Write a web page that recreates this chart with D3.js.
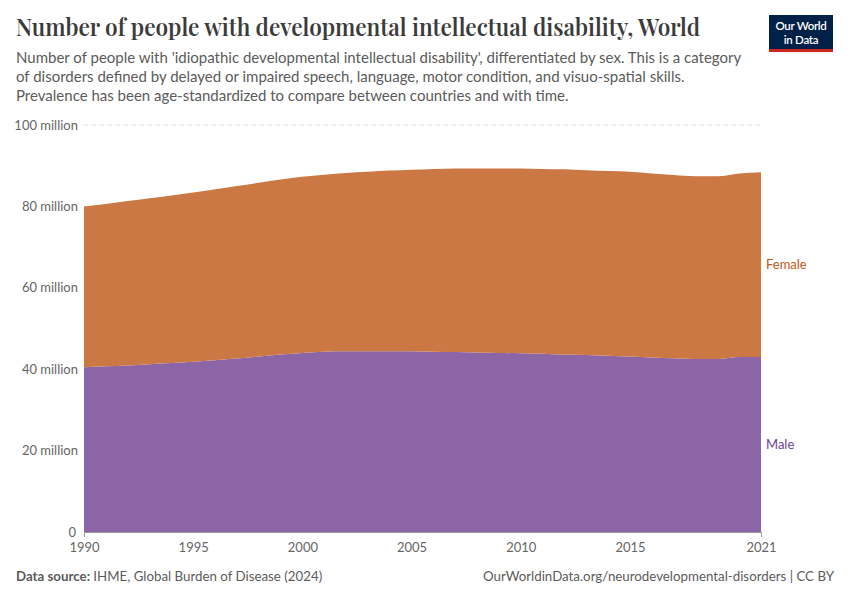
<!DOCTYPE html>
<html>
<head>
<meta charset="utf-8">
<script src="https://cdn.jsdelivr.net/npm/d3@7"></script>
<style>
  body { margin: 0; background: #fff; }
  svg { font-family: Lato, "Open Sans", sans-serif; }
</style>
</head>
<body>
<svg width="850" height="600"></svg>
<script>
// годы и значения (млн человек)
const years = d3.range(1990, 2022);
const male = [40.5, 40.7, 40.9, 41.2, 41.5, 41.8, 42.2, 42.6, 43.1, 43.6, 44.0,
              44.3, 44.4, 44.4, 44.4, 44.4, 44.3, 44.2, 44.1, 44.0, 43.9,
              43.8, 43.6, 43.5, 43.3, 43.1, 42.9, 42.7, 42.5, 42.5, 43.0, 43.0];
const total = [80.0, 80.6, 81.3, 82.0, 82.7, 83.4, 84.2, 85.0, 85.8, 86.6, 87.3,
               87.8, 88.2, 88.5, 88.8, 89.0, 89.2, 89.3, 89.3, 89.3, 89.3,
               89.2, 89.1, 88.9, 88.7, 88.5, 88.1, 87.7, 87.4, 87.4, 88.1, 88.4];
const female = total.map((t, i) => +(t - male[i]).toFixed(1));
const seriesNames = ["Male", "Female"];
const yTicks = [0, 20, 40, 60, 80, 100];
const xTicks = [1990, 1995, 2000, 2005, 2010, 2015, 2021];

const colors = {Male: "#8c65a6", Female: "#cc7844"};
const labelColors = {Male: "#6d3e91", Female: "#c05917"};

const svg = d3.select("svg");
const area_attr = {left: 84, right: 761, top: 125, bottom: 532};

// заголовок и подзаголовок
svg.append("text")
    .attr("x", 16).attr("y", 36)
    .attr("textLength", 684)
    .attr("lengthAdjust", "spacingAndGlyphs")
    .style("font-family", "'Playfair Display', 'Liberation Serif', 'DejaVu Serif', serif")
    .style("font-size", "25px")
    .style("font-weight", 600)
    .style("fill", "#3b3b3b")
    .text("Number of people with developmental intellectual disability, World");

const subtitle = [
    "Number of people with 'idiopathic developmental intellectual disability', differentiated by sex. This is a category",
    "of disorders defined by delayed or impaired speech, language, motor condition, and visuo-spatial skills.",
    "Prevalence has been age-standardized to compare between countries and with time."
];
svg.selectAll(".sub")
    .data(subtitle)
    .enter()
    .append("text")
    .attr("x", 16)
    .attr("y", (d, i) => 63 + i * 19)
    .style("font-size", "15px")
    .style("fill", "#5b5b5b")
    .text(d => d);

// логотип
const logo = svg.append("g");
logo.append("rect").attr("x", 769).attr("y", 15).attr("width", 64).attr("height", 34).attr("fill", "#002147");
logo.append("rect").attr("x", 769).attr("y", 49).attr("width", 64).attr("height", 3).attr("fill", "#ce261e");
logo.append("text").attr("x", 801).attr("y", 30).attr("text-anchor", "middle")
    .style("font-size", "11.5px").style("fill", "#fff").style("font-weight", 600).style("letter-spacing", "-0.3px")
    .text("Our World");
logo.append("text").attr("x", 801).attr("y", 44).attr("text-anchor", "middle")
    .style("font-size", "11.5px").style("fill", "#fff").style("font-weight", 600).style("letter-spacing", "-0.3px")
    .text("in Data");

// шкалы
const scX = d3.scaleLinear().domain([1990, 2021]).range([area_attr.left, area_attr.right]);
const scY = d3.scaleLinear().domain([0, 100]).range([area_attr.bottom, area_attr.top]);

// сетка
svg.append("g")
    .selectAll("line")
    .data(yTicks.filter(d => d > 0))
    .enter()
    .append("line")
    .attr("x1", area_attr.left).attr("x2", area_attr.right)
    .attr("y1", d => scY(d)).attr("y2", d => scY(d))
    .attr("stroke", "#dddddd")
    .attr("stroke-dasharray", "4,4");

// стек
const table = years.map((y, i) => ({year: y, Male: male[i], Female: female[i]}));
const stack = d3.stack().keys(seriesNames)(table);
const area = d3.area()
    .x(d => scX(d.data.year))
    .y0(d => scY(d[0]))
    .y1(d => scY(d[1]))
    .curve(d3.curveMonotoneX);

svg.append("g")
    .selectAll("path")
    .data(stack)
    .enter()
    .append("path")
    .attr("d", area)
    .attr("fill", d => colors[d.key]);

// подписи по оси Y
const axisY = d3.axisLeft(scY)
    .tickValues(yTicks)
    .tickSize(0)
    .tickPadding(6)
    .tickFormat(d => d === 0 ? "0" : d + " million");
const gy = svg.append("g")
    .attr("transform", `translate(${area_attr.left}, 0)`)
    .call(axisY);
gy.select(".domain").remove();
gy.selectAll("text")
    .attr("dy", "0.32em")
    .style("font-family", "Lato, sans-serif")
    .style("font-size", "13px")
    .style("fill", "#666");
gy.selectAll("text").filter(d => d === 0).attr("x", -8);

// ось X
const axisX = d3.axisBottom(scX)
    .tickValues(xTicks)
    .tickFormat(d3.format("d"))
    .tickSize(5)
    .tickPadding(6);
const gx = svg.append("g")
    .attr("transform", `translate(0, ${area_attr.bottom})`)
    .call(axisX);
gx.select(".domain").attr("stroke", "#999");
gx.selectAll(".tick line")
    .attr("stroke", "#999")
    .attr("opacity", d => (d === 1990 || d === 2021) ? 1 : 0);
gx.selectAll("text")
    .style("font-family", "Lato, sans-serif")
    .style("font-size", "13px")
    .style("fill", "#666");

// подписи серий справа
const last = stack.map(s => ({key: s.key, mid: (s[s.length - 1][0] + s[s.length - 1][1]) / 2}));
svg.selectAll(".lbl")
    .data(last)
    .enter()
    .append("text")
    .attr("x", area_attr.right + 5)
    .attr("y", d => scY(d.mid))
    .attr("dy", "0.35em")
    .style("font-size", "13px")
    .style("fill", d => labelColors[d.key])
    .text(d => d.key);

// подвал
const foot = svg.append("text").attr("x", 16).attr("y", 581).style("font-size", "13.3px").style("fill", "#5b5b5b");
foot.append("tspan").style("font-weight", 700).text("Data source: ");
foot.append("tspan").text("IHME, Global Burden of Disease (2024)");
svg.append("text").attr("x", 834).attr("y", 581).attr("text-anchor", "end")
    .style("font-size", "13.3px").style("fill", "#5b5b5b")
    .text("OurWorldinData.org/neurodevelopmental-disorders | CC BY");
</script>
</body>
</html>
